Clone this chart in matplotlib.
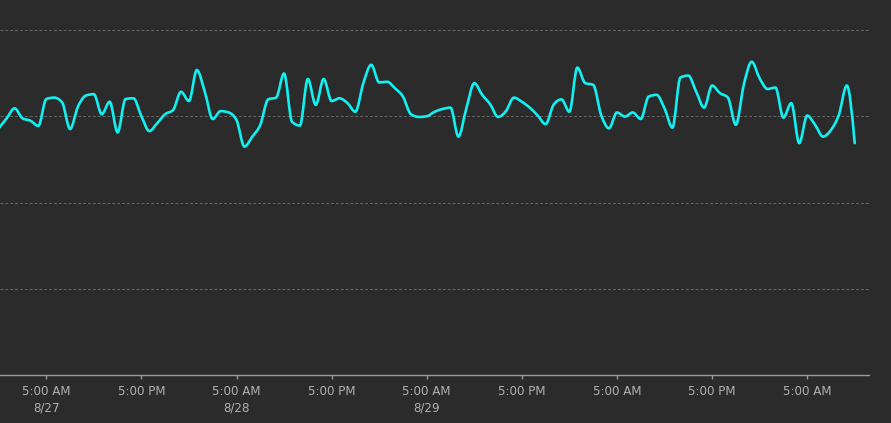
import numpy as np
import pandas as pd
import matplotlib
matplotlib.use('Agg')
import matplotlib.pyplot as plt
import matplotlib.dates as mdates
from matplotlib.path import Path
from matplotlib.patches import PathPatch

# hourly readings, hours counted from 8/27 5:00 AM
start = pd.Timestamp('2015-08-27 05:00')
hours = list(range(-6, 103))
values = [
    71.5, 74.4, 77.3, 74.4, 73.7, 72.2,
    80.0, 80.4, 79.0, 71.3, 77.8, 81.0, 81.4, 75.6, 79.2, 70.3, 80.0, 80.2,
    75.0, 70.7, 73.0, 75.6, 76.8, 82.1, 79.4, 88.4, 82.1, 74.2, 76.5, 76.1,
    73.9, 66.2, 69.1, 72.5, 79.9, 80.4, 87.4, 73.4, 72.3, 85.8, 78.3, 85.8,
    79.4, 80.2, 78.8, 76.3, 84.6, 89.9, 84.8, 85.0, 83.1, 80.7, 75.6, 74.8,
    75.0, 76.3, 77.1, 77.5, 69.1, 77.3, 84.6, 81.2, 78.5, 74.8, 76.5, 80.4,
    79.2, 77.5, 75.2, 72.7, 78.3, 79.9, 76.3, 89.1, 84.6, 84.1, 75.4, 71.5,
    76.1, 74.9, 76.1, 74.2, 80.7, 81.2, 77.3, 71.7, 86.2, 86.8, 82.1, 77.5,
    83.9, 81.7, 80.4, 72.5, 84.1, 90.8, 86.0, 82.9, 83.3, 74.6, 78.8, 67.2,
    75.2, 72.5, 69.1, 71.0, 75.4, 83.9, 67.2,
]

tick_hours = [0, 12, 24, 36, 48, 60, 72, 84, 96]
tick_labels = ['5:00 AM\n8/27', '5:00 PM', '5:00 AM\n8/28', '5:00 PM',
               '5:00 AM\n8/29', '5:00 PM', '5:00 AM', '5:00 PM', '5:00 AM']

bg = '#2b2b2b'
line_color = '#12f0f2'

times = start + pd.to_timedelta(hours, unit='h')
x = mdates.date2num(times.to_pydatetime())
y = np.array(values, dtype=float)


def monotone_path(x, y):
    # monotone cubic (like d3 curveMonotoneX) as bezier segments
    n = len(x)
    h = np.diff(x)
    d = np.diff(y) / h
    m = np.zeros(n)
    for i in range(1, n - 1):
        s0, s1 = d[i - 1], d[i]
        p = (s0 * h[i] + s1 * h[i - 1]) / (h[i - 1] + h[i])
        m[i] = (np.sign(s0) + np.sign(s1)) * min(abs(s0), abs(s1), 0.5 * abs(p))
    m[0] = (3 * d[0] - m[1]) / 2
    m[-1] = (3 * d[-1] - m[-2]) / 2
    verts = [(x[0], y[0])]
    codes = [Path.MOVETO]
    for i in range(n - 1):
        dx = h[i] / 3
        verts += [(x[i] + dx, y[i] + m[i] * dx),
                  (x[i + 1] - dx, y[i + 1] - m[i + 1] * dx),
                  (x[i + 1], y[i + 1])]
        codes += [Path.CURVE4] * 3
    return Path(verts, codes)


fig = plt.figure(figsize=(8.91, 4.23), dpi=100, facecolor=bg)
ax = fig.add_axes([0, 48 / 423, 869 / 891, 345 / 423], facecolor=bg)

ax.set_ylim(0, 100)
ax.set_xlim(mdates.date2num(start + pd.Timedelta(hours=-5.84)),
            mdates.date2num(start + pd.Timedelta(hours=103.8)))

for gy in [25, 50, 75, 100]:
    ax.axhline(gy, color='#666666', lw=0.7, ls=(0, (3, 2)), zorder=1)

patch = PathPatch(monotone_path(x, y), facecolor='none', edgecolor=line_color,
                  lw=1.9, transform=ax.transData, zorder=3, capstyle='round',
                  joinstyle='round')
ax.add_patch(patch)

ax.set_xticks(mdates.date2num((start + pd.to_timedelta(tick_hours, unit='h')).to_pydatetime()))
ax.set_xticklabels(tick_labels)
ax.tick_params(axis='x', colors='#9a9a9a', labelcolor='#b0b0b0', length=3,
               width=1, pad=4, labelsize=8.6)
for lbl in ax.get_xticklabels():
    lbl.set_linespacing(1.35)
ax.set_yticks([])
for side in ['top', 'left', 'right']:
    ax.spines[side].set_visible(False)
ax.spines['bottom'].set_color('#9a9a9a')
ax.spines['bottom'].set_linewidth(1)

fig.savefig('out.png', dpi=100, facecolor=bg)
